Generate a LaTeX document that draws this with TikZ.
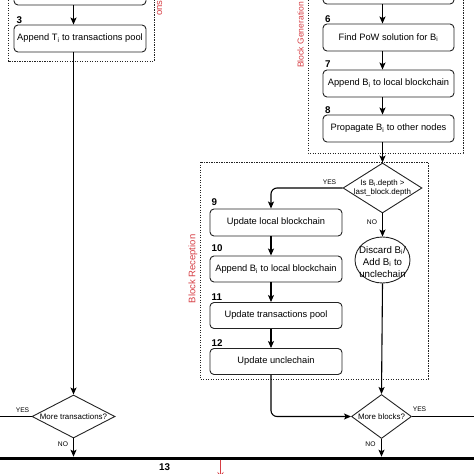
\documentclass[tikz,border=0pt]{standalone}
\usepackage{fontspec}
\setmainfont{Liberation Sans}
\usetikzlibrary{shapes.geometric,arrows.meta}
\definecolor{lblred}{RGB}{214,62,68}
\definecolor{frm}{RGB}{35,35,35}
\begin{document}
\begin{tikzpicture}[x=1pt,y=-1pt,
 box/.style={draw=frm, line width=0.9pt, rounded corners=4pt, minimum width=132pt, minimum height=27pt, inner sep=0pt, font=\fontsize{9.3}{11}\selectfont},
 dia/.style={draw=frm, line width=0.9pt, diamond, inner sep=0pt},
 ell/.style={draw=frm, line width=0.9pt, ellipse, inner sep=0pt},
 dtext/.style={font=\fontsize{7.9}{9.5}\selectfont, align=center, inner sep=0pt},
 etext/.style={font=\fontsize{9.7}{12}\selectfont, align=center, inner sep=0pt},
 num/.style={font=\fontsize{9.8}{11}\selectfont\bfseries, anchor=west, inner sep=0pt},
 yn/.style={font=\fontsize{6.7}{8}\selectfont, inner sep=0pt},
 frame/.style={draw=frm, line width=0.9pt, dash pattern=on 1.2pt off 1.3pt},
 flbl/.style={text=lblred, font=\fontsize{9.5}{11}\selectfont, rotate=90, inner sep=0pt},
 arr/.style={line width=1.1pt, -{Stealth[length=7pt,width=6pt,inset=1.5pt]}},
 ln/.style={line width=1.1pt},
]
\useasboundingbox (0,0) rectangle (474,474);
\clip (0,0) rectangle (474,474);

% frames
\draw[frame] (8,-10) rectangle (154,61);
\draw[frame] (308,-10) rectangle (463,153);
\draw[frame] (200,162) rectangle (428,379);
\node[flbl] (lT) at (159.5,8) {ons};
\node[flbl, font=\fontsize{8.6}{10}\selectfont] (lG) at (300.5,35) {Block Generation};
\node[flbl] (lR) at (193,269) {Block Reception};

% column coordinates
\coordinate (colM) at (271,0);

% left column
\node[box, minimum height=26pt] (boxT) at (80,-8) {};
\node[box] (box3) at (80,38.5) {Append T\textsubscript{i} to transactions pool};
\node[num] (n3) at (16.5,20) {3};
\node[dia, minimum width=83pt, minimum height=43pt] (d1) at (73.5,416.5) {};
\node[dtext] (d1t) at (d1.center) {More transactions?};

% right column
\node[box, minimum width=131pt, minimum height=26pt] (boxTR) at (388.5,-9) {};
\node[box, minimum width=131pt] (box6) at (388.5,37.5) {Find PoW solution for B\textsubscript{i}};
\node[box, minimum width=131pt] (box7) at (388.5,83.5) {Append B\textsubscript{i} to local blockchain};
\node[box, minimum width=131pt] (box8) at (388.5,128.5) {Propagate B\textsubscript{i} to other nodes};
\node[num] (n6) at (325,19) {6};
\node[num] (n7) at (325,64.5) {7};
\node[num] (n8) at (325,110) {8};

\node[dia, minimum width=79pt, minimum height=50pt] (d2) at (382.5,188) {};
\node[dtext] (d2t) at (d2.center) {Is B\textsubscript{i}.depth >\\last\_block.depth};

% middle column
\node[box, minimum height=27pt] (box9) at (276,222.5) {Update local blockchain};
\node[box, minimum height=26pt] (box10) at (276,269) {Append B\textsubscript{i} to local blockchain};
\node[box, minimum height=26pt] (box11) at (276,315.5) {Update transactions pool};
\node[box, minimum height=26pt] (box12) at (276,361.5) {Update unclechain};
\node[num] (n9) at (211.5,202.5) {9};
\node[num] (n10) at (211.5,248) {10};
\node[num] (n11) at (211.5,297) {11};
\node[num] (n12) at (211.5,343) {12};

\node[ell, minimum width=55pt, minimum height=46pt] (el) at (382.5,260) {};
\node[etext] (elt) at (382.5,262) {Discard B\textsubscript{i}/\\Add B\textsubscript{i} to\\unclechain};

\node[dia, minimum width=60pt, minimum height=44pt] (d3) at (381.5,416.5) {};
\node[dtext] (d3t) at (d3.center) {More blocks?};

% bar
\coordinate (barW) at (0,458);
\coordinate (barE) at (474,458);
\draw[line width=3pt] (barW) -- (barE);

% connectors left
\draw[arr] (boxT.south -| d1.north) -- (box3.north -| d1.north);
\draw[arr] (box3.south -| d1.north) -- (d1.north);
\coordinate (yesL) at (-5,416.5);
\draw[ln] (d1.west) -- (yesL);
\node[yn] (y1) at (22.5,410) {YES};
\draw[arr, shorten >=1.3pt] (d1.south) -- (d1.south |- barW);
\node[yn] (no1) at (63,444) {NO};

% connectors right
\draw[arr] (boxTR.south -| d2.north) -- (box6.north -| d2.north);
\draw[arr] (box6.south -| d2.north) -- (box7.north -| d2.north);
\draw[arr] (box7.south -| d2.north) -- (box8.north -| d2.north);
\draw[arr] (box8.south -| d2.north) -- (d2.north);
\draw[arr, rounded corners=6pt] (d2.west) -| (box9.north -| colM);
\node[yn] (y2) at (329.5,182) {YES};
\draw[arr] (d2.south) -- (el.north);
\node[yn] (no2) at (372,222) {NO};

% middle connectors
\draw[arr] (box9.south -| colM) -- (box10.north -| colM);
\draw[arr] (box10.south -| colM) -- (box11.north -| colM);
\draw[arr] (box11.south -| colM) -- (box12.north -| colM);
\draw[arr, rounded corners=6pt] (box12.south -| colM) |- (d3.west);
\draw[arr] (el.south) -- (d3.north);
\coordinate (yesR) at (480,416.5);
\draw[ln] (d3.east) -- (yesR);
\node[yn] (y3) at (419.5,409) {YES};
\draw[arr, shorten >=1.3pt] (d3.south) -- (d3.south |- barW);
\node[yn] (no3) at (370.5,444) {NO};

% below bar
\coordinate (r1) at (220.5,459.5);
\coordinate (r2) at (220.5,481);
\draw[lblred, line width=0.8pt, -{Stealth[length=9pt,width=6pt,open]}] (r1) -- (r2);
\node[num] (n13) at (159,467) {13};
\end{tikzpicture}
\end{document}
